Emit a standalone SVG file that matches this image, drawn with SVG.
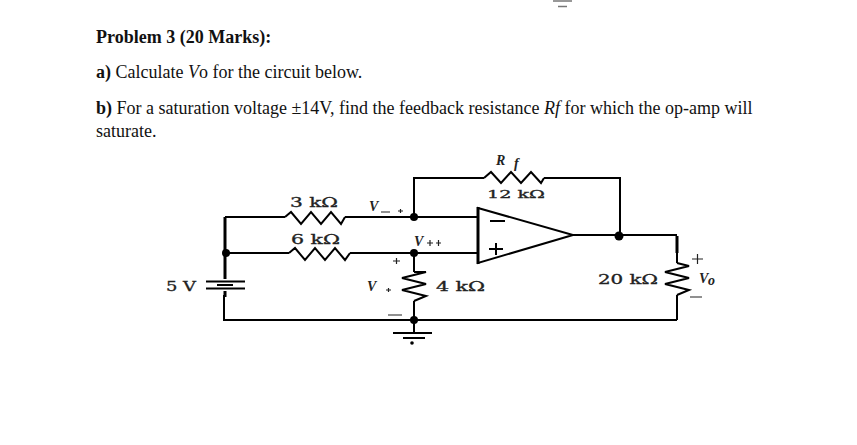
<svg xmlns="http://www.w3.org/2000/svg" width="857" height="445" viewBox="0 0 857 445">
<style>
.t{font-family:"Liberation Serif",serif;font-size:18px;fill:#111}
.b{font-weight:bold}
.i{font-style:italic}
.w{fill:none;stroke:#000;stroke-width:2}
.h{fill:none;stroke:#000;stroke-width:3}
.n{fill:none;stroke:#222;stroke-width:1.200}
.g{font-family:"DejaVu Serif",serif;font-size:12px;fill:#222;stroke:#222;stroke-width:0.300}
.v{font-family:"Liberation Serif",serif;font-size:14px;font-weight:bold;font-style:italic;fill:#222}
.d{fill:#000}
</style>
<rect width="857" height="445" fill="#fff"/>
<g id="text">
<text class="t b" x="96" y="42.500">Problem 3 (20 Marks):</text>
<text class="t" x="96" y="78"><tspan class="b">a)</tspan> Calculate <tspan class="i">V</tspan>o for the circuit below.</text>
<text class="t" x="96" y="114"><tspan class="b">b)</tspan> For a saturation voltage ±14V, find the feedback resistance <tspan class="i">Rf</tspan> for which the op-amp will</text>
<text class="t" x="96" y="137">saturate.</text>
</g>
<g id="connectors">
<path class="h" d="M225 217V279"/>
<path class="w" d="M225 217H285M345 217H478M226 253H289M350 253H478"/>
<path class="h" d="M225 291V297"/>
<path class="w" d="M224 295V320H677M414 217V178H484M544 178H620V236M573 235H677M414 253V272M414 301V333"/>
<path class="h" d="M677 236V253"/>
<path class="w" d="M677 253V263M677 295V320"/>
</g>
<g id="r-3k"><path class="w" d="M285 217L291 212L301 224L311 212L321 224L331 212L341 224L345 217"/><text class="g" x="290" y="206.500" textLength="48" lengthAdjust="spacingAndGlyphs">3 kΩ</text></g>
<g id="r-6k"><path class="w" d="M289 253L295 248L305 260L315 248L325 260L335 248L345 260L350 253"/><text class="g" x="291" y="243.500" textLength="49" lengthAdjust="spacingAndGlyphs">6 kΩ</text></g>
<g id="r-f"><path class="w" d="M484 178L491 172L501 183L511 172L521 183L531 172L541 183L544 178"/><text class="v" x="496" y="165" font-size="15">R</text><text class="v" x="514" y="168" font-size="9">f</text><text class="g" x="487" y="197.500" font-size="11" style="font-size:11px" textLength="58" lengthAdjust="spacingAndGlyphs">12 kΩ</text></g>
<g id="r-4k"><path class="w" d="M414 272H426L402 278L426 284L402 290L426 296L414 301"/><text class="g" x="436" y="291" textLength="49" lengthAdjust="spacingAndGlyphs">4 kΩ</text></g>
<g id="r-20k"><path class="w" d="M677 263L689 266L665 272L689 278L665 284L689 290L677 295"/><text class="g" x="598" y="284" textLength="60" lengthAdjust="spacingAndGlyphs">20 kΩ</text></g>
<g id="battery">
<path class="w" d="M206 281.500H245M206 288.500H245"/><path class="w" d="M217 285H233"/>
<text class="g" x="166" y="291" textLength="30" lengthAdjust="spacingAndGlyphs">5 V</text>
</g>
<g id="opamp">
<path d="M478 208L573 235L478 263Z" fill="#fff" stroke="#000" stroke-width="2"/>
<path class="h" d="M478 207V264"/>
<path class="w" d="M490 221H505M489 249H503M496 243V255"/>
</g>
<g id="ground">
<path class="w" d="M393 333H432M403 338H425"/><circle class="d" cx="412" cy="343" r="1.800"/>
</g>
<g id="junctions">
<circle class="d" cx="226" cy="253" r="4"/><circle class="d" cx="414" cy="217" r="4"/><circle class="d" cx="414" cy="253" r="4"/><circle class="d" cx="414" cy="320" r="4"/><circle class="d" cx="619" cy="236" r="4.500"/>
</g>
<g id="labels">
<text class="v" x="369" y="211">V</text><path class="n" d="M381 212H390M398 211H403M400.500 209V213"/>
<text class="v" x="414" y="246">V</text><path class="n" d="M427 243H433M430 240V246M436 243H441M438.500 240V246"/>
<text class="v" x="367" y="291">V</text><path class="n" d="M386 290H391M388.500 288V292"/>
<path class="n" d="M393 261H400M396.500 258V264M388 315H402"/>
<path class="n" d="M692 259H703M697.500 254V264M690 297H702"/>
<text class="v" x="699" y="283">V</text><text class="v" x="708" y="285" font-size="8">o</text>
</g>
<g id="top-mark"><path d="M553 1H572M558 6.500H567" stroke="#777" stroke-width="1.500" fill="none"/></g>
</svg>
